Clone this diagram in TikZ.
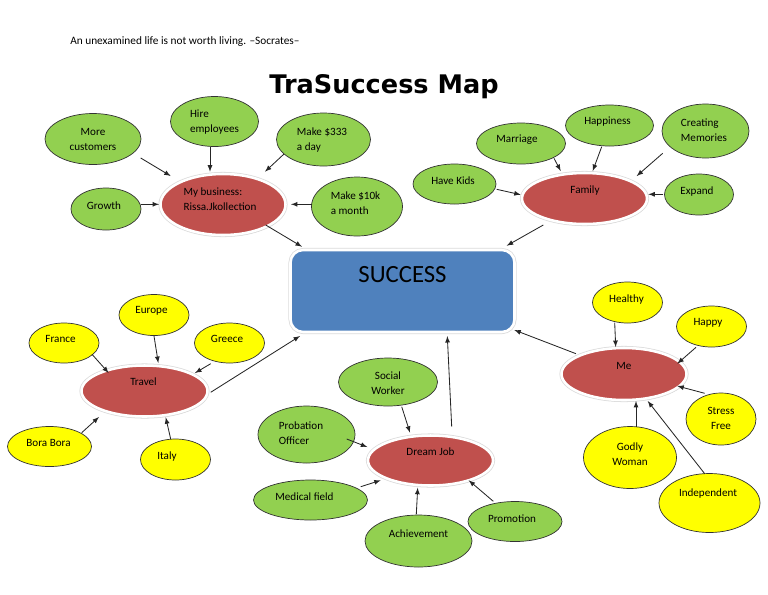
\documentclass[tikz,border=0pt]{standalone}
\usepackage{fontspec}
\setmainfont{Carlito}
\newfontfamily\titlefont{DejaVu Sans}
\usetikzlibrary{arrows,shapes.geometric,shadows}
\definecolor{leafgreen}{RGB}{146,208,80}
\definecolor{brickred}{RGB}{192,80,77}
\definecolor{stepblue}{RGB}{79,129,189}
\definecolor{sunyellow}{RGB}{255,255,0}
\tikzset{
	smalltext/.style={font=\fontsize{7.9}{10.7}\selectfont},
	ovalsize/.style 2 args={minimum width=#1*0.025cm, minimum height=#2*0.025cm},
	tag/.style n args={3}{label={[shift={(#1,#2)},name=\tikzlastnode-text]center:{#3}}},
	midtag/.style n args={3}{label={[shift={(#1,#2)},name=\tikzlastnode-text,align=center]center:{#3}}},
	every label/.style={smalltext,align=left,inner sep=0pt,yshift=-0.5pt},
	oval/.style={ellipse,draw=black!80,line width=0.5pt,inner sep=0pt},
	greenoval/.style={oval,fill=leafgreen},
	yellowoval/.style={oval,fill=sunyellow},
	softedge/.style={drop shadow={shadow xshift=0.5pt,shadow yshift=-1.1pt,opacity=0.35,fill=black!70},
		preaction={draw=black!14,line width=2.9pt}},
	redoval/.style={ellipse,fill=brickred,draw=white,line width=1.8pt,inner sep=0pt,softedge},
	arrowline/.style={-latex,line width=0.6pt,black!85}
}

\begin{document}
\begin{tikzpicture}[x=0.025cm,y=-0.025cm]
		\useasboundingbox (0,0) rectangle (768,594);
		%%  Headings  %%%%%%%%
		\node[font=\fontsize{8.05}{10.7}\selectfont,anchor=west,inner sep=0pt] (quote) at (70,42) {An unexamined life is not worth living. --Socrates--};
		\node[font=\titlefont\fontsize{18.2}{20}\selectfont\bfseries,inner sep=0pt] (title) at (384,87) {TraSuccess Map};
		%%  Centre  %%%%%%%%
		\node[rectangle,rounded corners=9pt,fill=stepblue,draw=white,line width=1.8pt,inner sep=0pt,
			ovalsize={224}{82},softedge,
			label={[shift={(0,-17)},name=success-text,font=\fontsize{17.6}{20}\selectfont]center:SUCCESS}] (success) at (402.5,291) {};
		%%  Business  %%%%%%%%
		\node[redoval,ovalsize={125}{61},tag={-3}{-6}{My business:\\Rissa.Jkollection}] (biz) at (223,204.5) {};
		\node[greenoval,ovalsize={96}{51},midtag={0}{0}{More\\customers}] (more) at (93,139) {};
		\node[greenoval,ovalsize={88}{50},tag={0}{0}{Hire\\employees}] (hire) at (214.5,121.5) {};
		\node[greenoval,ovalsize={94}{53},tag={-1.5}{-0.5}{Make \$333\\a day}] (daily) at (323.5,139.5) {};
		\node[greenoval,ovalsize={70}{42},tag={-2}{-4}{Growth}] (growth) at (106,209) {};
		\node[greenoval,ovalsize={91}{59},tag={-1.5}{-4}{Make \$10k\\a month}] (month) at (357,206.5) {};
		\draw[arrowline] ([shift={(47.7,19)}]more.center) -- ([shift={(-52.3,-28.5)}]biz.center);
		\draw[arrowline] ([shift={(-4.5,25.2)}]hire.center) -- ([shift={(-13,-32.8)}]biz.center);
		\draw[arrowline] ([shift={(-39.5,14.5)}]daily.center) -- ([shift={(42,-32.8)}]biz.center);
		\draw[arrowline] ([shift={(35,-4.7)}]growth.center) -- ([shift={(-64,-0.2)}]biz.center);
		\draw[arrowline] ([shift={(-45.3,-2.2)}]month.center) -- ([shift={(68,-0.2)}]biz.center);
		\draw[arrowline] ([shift={(42.7,20.5)}]biz.center) -- ([shift={(-100.5,-44.3)}]success.center);
		%%  Family  %%%%%%%%
		\node[redoval,ovalsize={125}{51},tag={0.5}{-8.5}{Family}] (family) at (584.5,198.5) {};
		\node[greenoval,ovalsize={89}{41},tag={-4}{-4.5}{Marriage}] (marriage) at (521,143.5) {};
		\node[greenoval,ovalsize={88}{41},tag={-2}{-4.5}{Happiness}] (happiness) at (609.5,125.5) {};
		\node[greenoval,ovalsize={87}{54},tag={-1.5}{-1.5}{Creating\\Memories}] (memories) at (705.5,131) {};
		\node[greenoval,ovalsize={83}{40},tag={-1.5}{-4}{Have Kids}] (kids) at (454.5,184) {};
		\node[greenoval,ovalsize={69}{41},tag={-2}{-3.5}{Expand}] (expand) at (699,194.5) {};
		\draw[arrowline] ([shift={(33,14.8)}]marriage.center) -- ([shift={(-23.8,-27.5)}]family.center);
		\draw[arrowline] ([shift={(-7.8,21.2)}]happiness.center) -- ([shift={(8.2,-27.5)}]family.center);
		\draw[arrowline] ([shift={(-42.8,22.3)}]memories.center) -- ([shift={(52.2,-22.5)}]family.center);
		\draw[arrowline] ([shift={(42.2,5.3)}]kids.center) -- ([shift={(-63.8,-3.8)}]family.center);
		\draw[arrowline] ([shift={(-35.7,-0.2)}]expand.center) -- ([shift={(63.8,-4.2)}]family.center);
		\draw[arrowline] ([shift={(-41.2,26.5)}]family.center) -- ([shift={(104.2,-45.3)}]success.center);
		%%  Travel  %%%%%%%%
		\node[redoval,ovalsize={126}{51},tag={-1}{-10}{Travel}] (travel) at (144.5,391) {};
		\node[yellowoval,ovalsize={70}{40},tag={-3.5}{-4.5}{France}] (france) at (64,343) {};
		\node[yellowoval,ovalsize={70}{41},tag={-2.5}{-4.5}{Europe}] (europe) at (154,315) {};
		\node[yellowoval,ovalsize={70}{40},tag={-2.5}{-4.5}{Greece}] (greece) at (229.5,343) {};
		\node[yellowoval,ovalsize={84}{40},tag={-1}{-4.5}{Bora Bora}] (bora) at (49.5,446.5) {};
		\node[yellowoval,ovalsize={70}{41},tag={-8.5}{-4}{Italy}] (italy) at (175.5,459.5) {};
		\draw[arrowline] ([shift={(28,11.3)}]france.center) -- ([shift={(-35.8,-18)}]travel.center);
		\draw[arrowline] ([shift={(0,21)}]europe.center) -- ([shift={(13.8,-28)}]travel.center);
		\draw[arrowline] ([shift={(-18.8,20.7)}]greece.center) -- ([shift={(50.5,-18)}]travel.center);
		\draw[arrowline] ([shift={(32.2,-13.8)}]bora.center) -- ([shift={(-45.5,26)}]travel.center);
		\draw[arrowline] ([shift={(-4.8,-20.5)}]italy.center) -- ([shift={(21.2,26.3)}]travel.center);
		\draw[arrowline] ([shift={(66.2,1.3)}]travel.center) -- ([shift={(-102.5,45)}]success.center);
		%%  Dream Job  %%%%%%%%
		\node[redoval,ovalsize={125}{50},tag={0}{-9.5}{Dream Job}] (dream) at (430.5,460.5) {};
		\node[greenoval,ovalsize={99}{48},midtag={0}{0.5}{Social\\Worker}] (social) at (388,382) {};
		\node[greenoval,ovalsize={97}{57},tag={-5.5}{-2.5}{Probation\\Officer}] (probation) at (306.5,434.5) {};
		\node[greenoval,ovalsize={114}{40},tag={-6}{-4.5}{Medical field}] (medical) at (310.5,500) {};
		\node[greenoval,ovalsize={107}{52},tag={0}{-8.5}{Achievement}] (achieve) at (418.5,541) {};
		\node[greenoval,ovalsize={94}{40},tag={-3}{-4}{Promotion}] (promotion) at (515,521.5) {};
		\draw[arrowline] ([shift={(13.7,24.7)}]social.center) -- ([shift={(-20.5,-27.8)}]dream.center);
		\draw[arrowline] ([shift={(40.2,4.5)}]probation.center) -- ([shift={(-63.2,-13.5)}]dream.center);
		\draw[arrowline] ([shift={(50.2,-13.3)}]medical.center) -- ([shift={(-49.8,19.8)}]dream.center);
		\draw[arrowline] ([shift={(-2.2,-26.7)}]achieve.center) -- ([shift={(-12.8,27.2)}]dream.center);
		\draw[arrowline] ([shift={(-21.7,-20.2)}]promotion.center) -- ([shift={(38.2,19.8)}]dream.center);
		\draw[arrowline] ([shift={(21.2,-33.8)}]dream.center) -- ([shift={(44.8,45)}]success.center);
		%%  Me  %%%%%%%%
		\node[redoval,ovalsize={125}{52},tag={0}{-9}{Me}] (me) at (624,374) {};
		\node[yellowoval,ovalsize={70}{41},tag={-1}{-4}{Healthy}] (healthy) at (627.5,302.5) {};
		\node[yellowoval,ovalsize={70}{41},tag={-3.5}{-4}{Happy}] (happy) at (711.5,326.5) {};
		\node[yellowoval,ovalsize={70}{52},midtag={0}{-1}{Stress\\Free}] (stress) at (721,419) {};
		\node[yellowoval,ovalsize={93}{62},midtag={0}{-4.5}{Godly\\Woman}] (godly) at (630,457.5) {};
		\node[yellowoval,ovalsize={101}{59},tag={-1.5}{-10.5}{Independent}] (independent) at (709.5,503) {};
		\draw[arrowline] ([shift={(-12.8,20.2)}]healthy.center) -- ([shift={(-8.3,-27)}]me.center);
		\draw[arrowline] ([shift={(-15.5,20.8)}]happy.center) -- ([shift={(53.3,-10.3)}]me.center);
		\draw[arrowline] ([shift={(-16.3,-25.7)}]stress.center) -- ([shift={(53.3,12)}]me.center);
		\draw[arrowline] ([shift={(6,-30.8)}]godly.center) -- ([shift={(12,27)}]me.center);
		\draw[arrowline] ([shift={(-4.8,-29.3)}]independent.center) -- ([shift={(23.7,27)}]me.center);
		\draw[arrowline] ([shift={(-48,-20.3)}]me.center) -- ([shift={(111.8,39)}]success.center);
		%%%%%%%%%%%%%%%
	\end{tikzpicture}
\end{document}
